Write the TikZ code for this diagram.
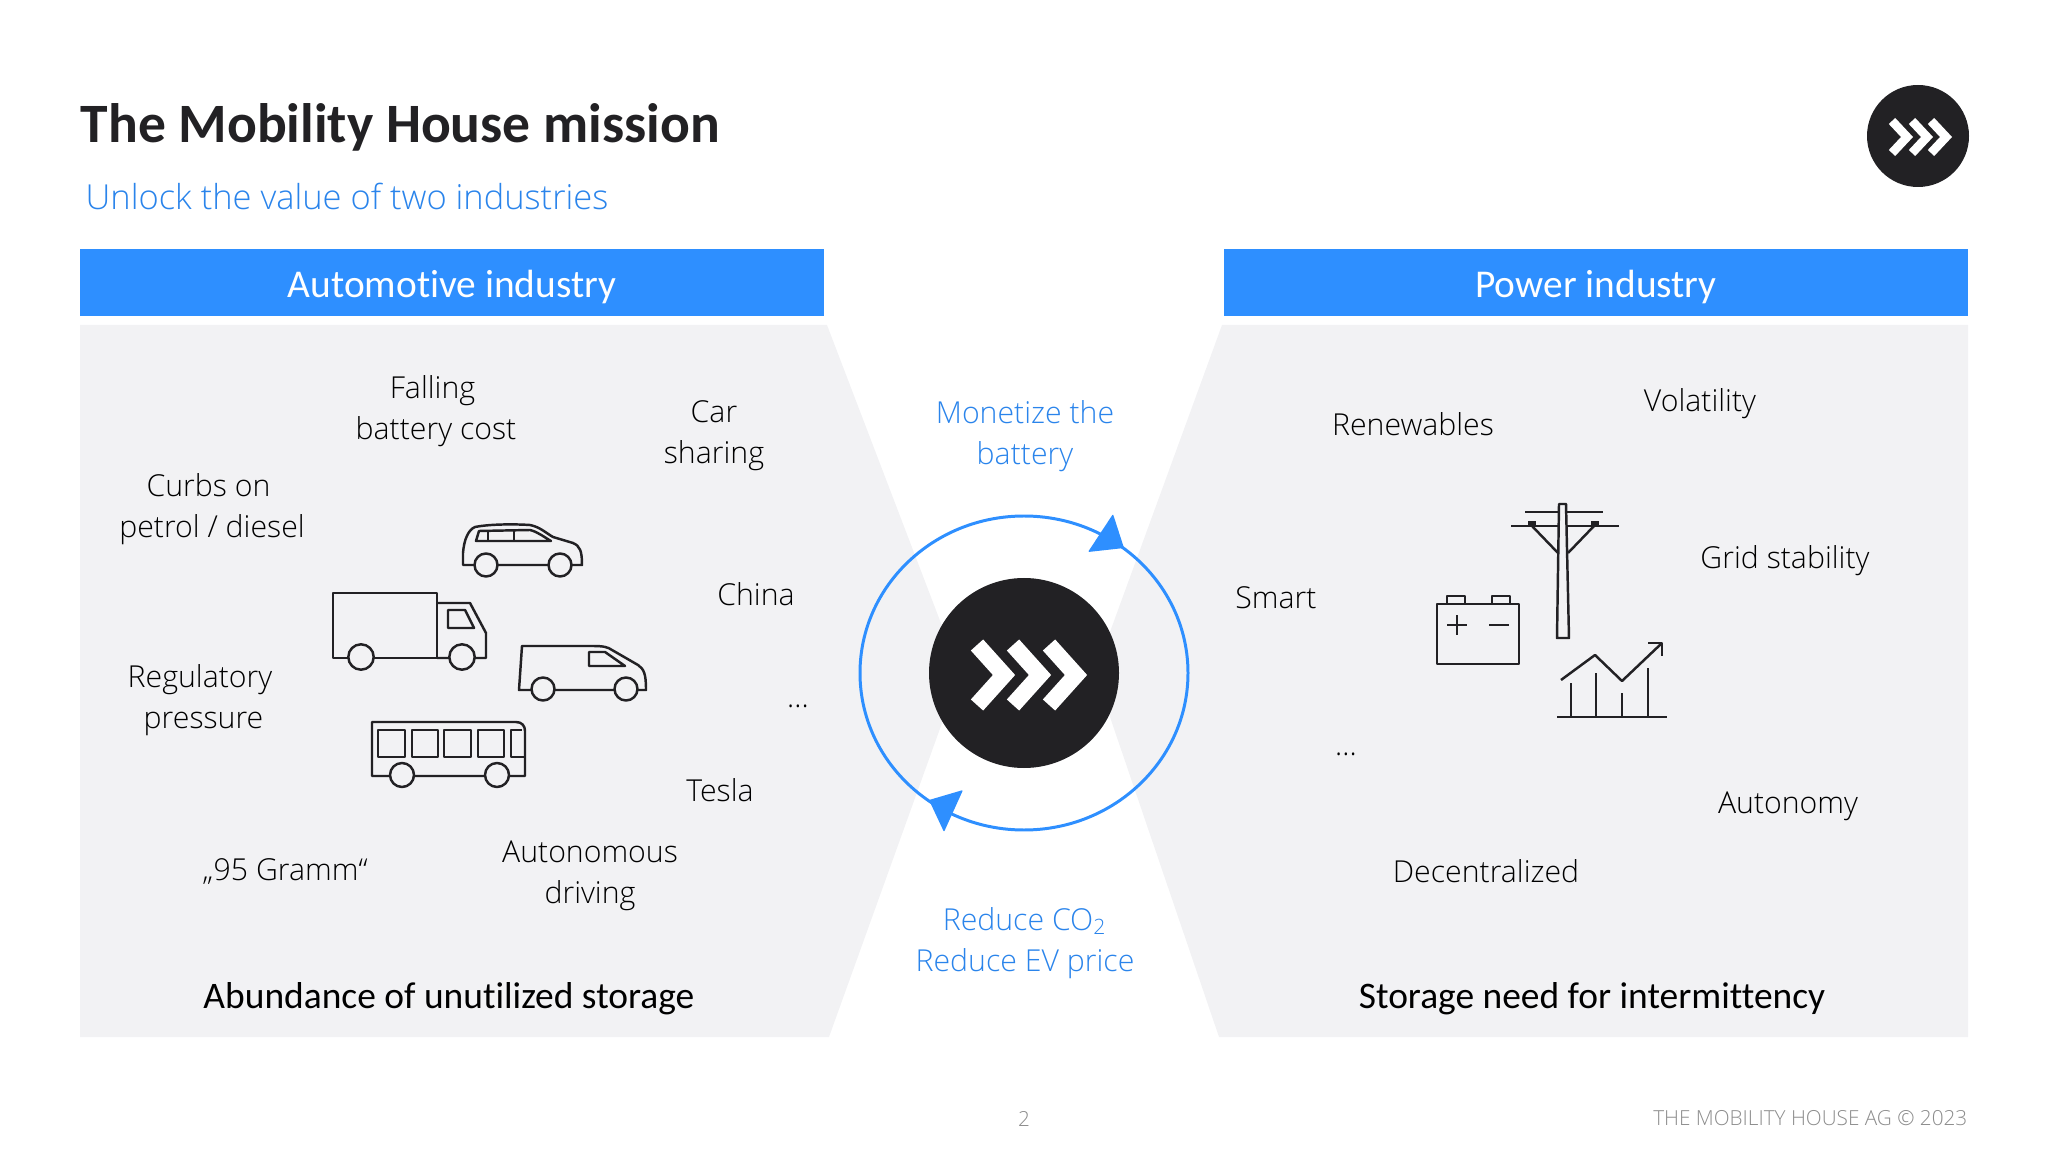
\documentclass[tikz,border=0pt]{standalone}
\usepackage{fontspec}
\setmainfont{Open Sans Light}
\newfontfamily\tmhbold[Ligatures=NoCommon]{Carlito}
\definecolor{tmhblue}{HTML}{2E8FFF}
\definecolor{tmhdark}{HTML}{222124}
\definecolor{tmhpanel}{HTML}{F2F2F4}
\definecolor{tmhgrey}{HTML}{8C8C8C}
\tikzset{
    label text/.style={font=\fontsize{8.6pt}{11.6pt}\selectfont,text=black,align=center,inner sep=0pt},
    blue text/.style={label text,text=tmhblue!92!black},
    head text/.style={font=\tmhbold\fontsize{11.2pt}{12pt}\selectfont,text=white,inner sep=0pt},
    sum text/.style={font=\tmhbold\fontsize{10.65pt}{12pt}\selectfont,text=black,inner sep=0pt},
    icon/.style={draw=tmhdark,line width=0.7pt,line join=round},
    wheel/.style={icon,fill=tmhpanel},
}
\begin{document}
\begin{tikzpicture}[x=0.01cm,y=-0.01cm]
    \useasboundingbox (0,0) rectangle (2048,1152);

    % panels
    \fill[tmhpanel] (80,325)--(827,325)--(960,673)--(829,1037)--(80,1037)--cycle;
    \fill[tmhpanel] (1968,325)--(1222,325)--(1095,673)--(1219,1037)--(1968,1037)--cycle;
    \fill[tmhblue] (80,249) rectangle (824,316);
    \fill[tmhblue] (1224,249) rectangle (1968,316);

    % heading
    \node[anchor=west,inner sep=0pt,text=tmhdark,font=\tmhbold\fontsize{15.8pt}{18pt}\selectfont\bfseries] (title) at (80,127) {The Mobility House mission};
    \node[anchor=west,inner sep=0pt,text=tmhblue!92!black,font=\fontsize{9.8pt}{12pt}\selectfont] (subtitle) at (85,196) {Unlock the value of two industries};
    \node[head text] (autohead) at (452,287) {Automotive industry};
    \node[head text] (powerhead) at (1596,287) {Power industry};

    % small logo
    \fill[tmhdark] (1918,136) circle (51);
    \foreach \tip in {1907,1927,1946}
        \draw[white,line width=2.5pt,line join=miter] (\tip-15,121)--(\tip,137)--(\tip-15,153);

    % left labels
    \node[label text] (battcost) at (436,411) {Falling\hspace*{2pt}\\battery cost};
    \node[label text] (carshare) at (714,436) {Car\\sharing};
    \node[label text] (curbs) at (212,509) {Curbs on\hspace*{2pt}\\petrol / diesel};
    \node[label text] (china) at (756,594) {China};
    \node[label text] (dotsleft) at (798,706) {...};
    \node[label text] (regul) at (200,700) {Regulatory\\\hspace*{2pt}pressure};
    \node[label text] (tesla) at (720,790) {Tesla};
    \node[label text] (gramm) at (285,871) {„95 Gramm“};
    \node[label text] (autodrive) at (590,876) {Autonomous\\driving};
    \node[sum text] (abund) at (449,999) {Abundance of unutilized storage};

    % right labels
    \node[label text] (renew) at (1413,424) {Renewables};
    \node[label text] (volat) at (1700,404) {Volatility};
    \node[label text] (grid) at (1785,561) {Grid stability};
    \node[label text] (smart) at (1276,598) {Smart};
    \node[label text] (dotsright) at (1346,754) {...};
    \node[label text] (auton) at (1788,806) {Autonomy};
    \node[label text] (decent) at (1486,871) {Decentralized};
    \node[sum text] (need) at (1592,999) {Storage need for intermittency};

    % centre
    \node[blue text] (monet) at (1025,436) {Monetize the\\battery};
    \node[blue text] (reduce) at (1025,943) {Reduce CO\textsubscript{2}\\Reduce EV price};
    \draw[tmhblue,line width=0.85pt] (1024,673) ellipse (164 and 157);
    \fill[tmhblue,rounded corners=0.3pt] (1113,514)--(1088,552)--(1124,548)--cycle;
    \fill[tmhblue,rounded corners=0.3pt] (963,790)--(929,800)--(944,832)--cycle;
    \fill[tmhdark] (1024,673) circle (95);
    \foreach \tip in {1004,1040,1076}
        \draw[white,line width=4.7pt,line join=miter] (\tip-27,645)--(\tip,675)--(\tip-27,705);

    % car
    \draw[icon] (486,565)--(463,565)--(463,553) .. controls (464,540) and (468,530) .. (475,527)
        .. controls (490,524) and (515,524) .. (530,525) .. controls (540,527) and (546,533) .. (553,537)
        -- (573,543) .. controls (580,546) and (582,551) .. (582,565)--(560,565)--cycle;
    \draw[icon] (476,541)--(479,531)--(530,530) .. controls (538,532) and (544,537) .. (551,541)--cycle;
    \draw[icon] (488,531)--(488,541);
    \draw[icon] (514,530)--(514,541);
    \draw[wheel] (486,565) circle (11.5);
    \draw[wheel] (560,565) circle (11.5);

    % truck
    \draw[icon] (333,593) rectangle (437,658);
    \draw[icon] (437,603)--(470,603)--(486,633)--(486,658)--(437,658);
    \draw[icon] (448,610)--(465,610)--(474,628)--(448,628)--cycle;
    \draw[wheel] (361,657) circle (12.7);
    \draw[wheel] (462,657) circle (12.7);

    % van
    \draw[icon] (519,690)--(522,646)--(593,646) .. controls (603,646) and (608,647) .. (612,650)
        -- (638,665) .. controls (644,669) and (646,674) .. (646,690)--cycle;
    \draw[icon] (589,652)--(605,652)--(625,666)--(589,666)--cycle;
    \draw[wheel] (543,689) circle (11.5);
    \draw[wheel] (626,689) circle (11.5);

    % bus
    \draw[icon] (372,722)--(516,722) .. controls (522,722) and (525,726) .. (525,731)--(525,776)--(372,776)--cycle;
    \foreach \xa/\xb in {378/405,412/438,444/471,478/504}
        \draw[icon] (\xa,730) rectangle (\xb,757);
    \draw[icon] (525,757)--(511,757)--(511,730)--(522,730);
    \draw[wheel] (402,775) circle (12);
    \draw[wheel] (497,775) circle (12);

    % pole
    \draw[icon] (1525,512)--(1603,512);
    \draw[icon] (1511,526)--(1619,526);
    \draw[icon,fill=tmhpanel] (1559,504)--(1566,504)--(1569,638)--(1557,638)--cycle;
    \draw[icon] (1532,526)--(1558,553);
    \draw[icon] (1594,526)--(1568,553);
    \fill[tmhdark] (1528,521) rectangle (1536,526);
    \fill[tmhdark] (1591,521) rectangle (1599,526);

    % battery
    \draw[icon] (1437,604) rectangle (1519,664);
    \draw[icon] (1447,604)--(1447,596)--(1465,596)--(1465,604);
    \draw[icon] (1492,604)--(1492,596)--(1510,596)--(1510,604);
    \draw[icon] (1447,625)--(1467,625);
    \draw[icon] (1457,615)--(1457,635);
    \draw[icon] (1489,625)--(1509,625);

    % chart
    \draw[icon] (1557,717)--(1667,717);
    \foreach \xa/\ya in {1571/683,1596/673,1622/693,1648/668}
        \draw[icon] (\xa,717)--(\xa,\ya);
    \draw[icon] (1561,680)--(1595,655)--(1622,681)--(1662,643);
    \draw[icon] (1648,643)--(1662,643)--(1662,656);

    % footer
    \node[inner sep=0pt,text=tmhgrey,font=\fontsize{5.9pt}{7pt}\selectfont] (pageno) at (1024,1119) {2};
    \node[anchor=east,inner sep=0pt,text=tmhgrey,font=\fontsize{5.9pt}{7pt}\selectfont] (footer) at (1968,1118) {THE MOBILITY HOUSE AG © 2023};
\end{tikzpicture}
\end{document}
